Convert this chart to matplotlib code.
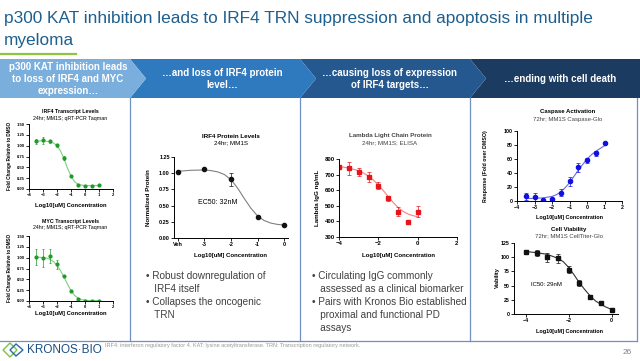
import matplotlib
matplotlib.use("Agg")
import matplotlib.pyplot as plt
from matplotlib.patches import Polygon

plt.rcParams['font.family'] = ['Liberation Sans', 'DejaVu Sans']

W, H = 640, 361

# ---------------- data ----------------
# IRF4 transcript (qRT-PCR)
irf4_x = [-3.5, -3, -2.5, -2, -1.5, -1, -0.5, 0, 0.5, 1]
irf4_y = [1.10, 1.12, 1.10, 1.01, 0.71, 0.30, 0.10, 0.08, 0.08, 0.09]
irf4_err = [0.06, 0.07, 0.04, 0.04, 0.05, 0.02, 0.01, 0.01, 0.01, 0.01]
irf4_fit_x = [-3.5, -3.25, -3, -2.75, -2.5, -2.25, -2, -1.75, -1.5, -1.25, -1, -0.75, -0.5, -0.25, 0, 0.25, 0.5, 0.75, 1]
irf4_fit_y = [1.11, 1.11, 1.11, 1.10, 1.09, 1.06, 1.00, 0.88, 0.70, 0.48, 0.30, 0.17, 0.11, 0.09, 0.08, 0.08, 0.08, 0.08, 0.08]

# MYC transcript (qRT-PCR)
myc_x = [-3.5, -3, -2.5, -2, -1.5, -1, -0.5, 0, 0.5, 1]
myc_y = [1.01, 0.99, 1.03, 0.85, 0.57, 0.23, 0.04, 0.01, 0.01, 0.01]
myc_err = [0.18, 0.20, 0.16, 0.10, 0.02, 0.02, 0.01, 0.01, 0.01, 0.01]
myc_fit_y = [1.01, 1.01, 1.00, 0.99, 0.96, 0.91, 0.82, 0.70, 0.55, 0.39, 0.24, 0.13, 0.07, 0.03, 0.02, 0.01, 0.01, 0.01, 0.01]

# IRF4 protein
prot_x = [-4, -3, -2, -1, 0]
prot_labels = ['Veh', '-3', '-2', '-1', '0']
prot_y = [1.02, 1.06, 0.91, 0.33, 0.20]
prot_err = [0.0, 0.0, 0.10, 0.0, 0.0]
prot_fit_x = [-4, -3.5, -3, -2.75, -2.5, -2.25, -2, -1.75, -1.5, -1.25, -1, -0.75, -0.5, -0.25, 0]
prot_fit_y = [1.03, 1.045, 1.05, 1.04, 1.02, 0.98, 0.90, 0.77, 0.61, 0.46, 0.34, 0.27, 0.23, 0.21, 0.20]

# Lambda IgG ELISA
igg_x = [-4, -3.5, -3, -2.5, -2, -1.5, -1, -0.5, 0]
igg_y = [750, 740, 715, 685, 630, 548, 462, 395, 462]
igg_err = [10, 40, 25, 30, 25, 15, 28, 8, 35]
igg_fit_x = [-4, -3.5, -3, -2.75, -2.5, -2.25, -2, -1.75, -1.5, -1.25, -1, -0.75, -0.5, -0.25, 0]
igg_fit_y = [752, 742, 725, 710, 690, 665, 633, 598, 560, 522, 490, 465, 448, 437, 430]

# Caspase activation
casp_x = [-3.5, -3, -2.5, -2, -1.5, -1, -0.5, 0, 0.5, 1]
casp_y = [7, 6, 1, 3, 12, 28, 48, 58, 68, 83]
casp_err = [5, 6, 1, 1, 5, 6, 6, 4, 4, 1]
casp_fit_x = [-3.5, -3, -2.5, -2, -1.75, -1.5, -1.25, -1, -0.75, -0.5, -0.25, 0, 0.25, 0.5, 0.75, 1]
casp_fit_y = [3.5, 3.8, 4.5, 6.5, 9, 13, 19, 26, 35, 44, 52, 60, 66, 71, 75, 79]

# Cell viability
via_x = [-4, -3.5, -3, -2.5, -2, -1.5, -1, -0.5, 0]
via_y = [110, 107, 100, 98, 78, 54, 30, 19, 7]
via_err = [3, 5, 8, 8, 6, 5, 3, 2, 2]
via_fit_x = [-4, -3.5, -3, -2.5, -2.25, -2, -1.75, -1.5, -1.25, -1, -0.75, -0.5, -0.25, 0]
via_fit_y = [110, 108, 105, 98, 92, 82, 69, 55, 43, 32, 23, 17, 12, 8]

banner_texts = ["p300 KAT inhibition leads\nto loss of IRF4 and MYC\nexpression\u2026",
                "\u2026and loss of IRF4 protein\nlevel\u2026",
                "\u2026causing loss of expression\nof IRF4 targets\u2026",
                "\u2026ending with cell death"]
banner_colors = ['#7aaedd', '#2f79bf', '#25588f', '#1c3b60']

fig = plt.figure(figsize=(6.4, 3.61), dpi=100)
bg = fig.add_axes([0, 0, 1, 1])
bg.set_xlim(0, W)
bg.set_ylim(H, 0)
bg.axis('off')

# title
bg.text(4, 19, "p300 KAT inhibition leads to IRF4 TRN suppression and apoptosis in multiple",
        fontsize=12.4, color='#1d5f8f', va='center', ha='left')
bg.text(4, 40, "myeloma", fontsize=12.4, color='#1d5f8f', va='center', ha='left')
bg.plot([0, 76], [54, 54], color='#8cc540', lw=1.6)

# chevron banner
top, bot = 59, 98
mid = (top + bot) / 2
edges = [0, 130, 300, 470, 640]
tip = 16
for i in range(4):
    x0, x1 = edges[i], edges[i + 1]
    pts = [(x0, top), (x1, top), (x1 + tip if i < 3 else x1, mid), (x1, bot), (x0, bot)]
    if i > 0:
        pts.append((x0 + tip, mid))
    bg.add_patch(Polygon(pts, closed=True, facecolor=banner_colors[i], edgecolor='none', zorder=4 - i))
centers = [68, 222, 390, 560]
for c, t in zip(centers, banner_texts):
    bg.text(c, mid, t, color='white', fontsize=7, fontweight='bold', ha='center', va='center',
            linespacing=1.25, zorder=6)

# panel borders
bcol = '#7090c0'
for x in [130, 300, 470, 637]:
    bg.plot([x, x], [bot, 341], color=bcol, lw=0.9)
bg.plot([0, 637], [341, 341], color=bcol, lw=0.9)

# bullets
bg.text(146, 271, "\u2022 Robust downregulation of\n   IRF4 itself\n\u2022 Collapses the oncogenic\n   TRN",
        fontsize=7.2, color='#404040', va='top', ha='left', linespacing=1.38)
bg.text(312, 271, "\u2022 Circulating IgG commonly\n   assessed as a clinical biomarker\n\u2022 Pairs with Kronos Bio established\n   proximal and functional PD\n   assays",
        fontsize=7.2, color='#404040', va='top', ha='left', linespacing=1.38)

# footer
bg.text(105, 346, "IRF4: interferon regulatory factor 4. KAT: lysine acetyltransferase. TRN: Transcription regulatory network.",
        fontsize=4, color='#9a9a9a', va='center', ha='left')
bg.text(632, 352, "26", fontsize=6, color='#808080', ha='right', va='center')
bg.add_patch(Polygon([(3, 350), (10, 343), (17, 350), (10, 357)], closed=True, fill=False, edgecolor='#7dc242', lw=1.0))
bg.add_patch(Polygon([(10, 350), (16, 344), (23, 350), (16, 356)], closed=True, fill=False, edgecolor='#2a6bb0', lw=1.0))
bg.text(27, 350, "KRONOS\u00b7BIO", fontsize=8.5, color='#1e4f82', va='center', ha='left')


def make_ax(box, xlim, ylim):
    x0, y0, w, h = box
    ax = fig.add_axes([x0 / W, 1 - (y0 + h) / H, w / W, h / H])
    ax.patch.set_alpha(0)
    ax.set_xlim(*xlim)
    ax.set_ylim(*ylim)
    for s in ['top', 'right']:
        ax.spines[s].set_visible(False)
    for s in ['left', 'bottom']:
        ax.spines[s].set_linewidth(0.7)
    ax.tick_params(length=2, width=0.6, pad=1)
    return ax


def style_ticks(ax, fs):
    for lab in ax.get_xticklabels() + ax.get_yticklabels():
        lab.set_fontsize(fs)
        lab.set_fontweight('bold')


# chart 1: IRF4 transcript
ax1 = make_ax((29, 124, 84, 65), (-4, 2), (0, 1.5))
ax1.plot(irf4_fit_x, irf4_fit_y, color='#7fcf7f', lw=0.8)
ax1.errorbar(irf4_x, irf4_y, yerr=irf4_err, fmt='o', ms=2.0, color='#1f9a2a', elinewidth=0.5, capsize=1, capthick=0.5)
ax1.set_xticks(range(-4, 3))
ax1.set_yticks([0, 0.25, 0.5, 0.75, 1.0, 1.25, 1.5])
ax1.set_yticklabels(['0.00', '0.25', '0.50', '0.75', '1.00', '1.25', '1.50'])
style_ticks(ax1, 3)
bg.text(70, 112, "IRF4 Transcript Levels", fontsize=3.8, fontweight='bold', ha='center', va='center')
bg.text(70, 118.5, "24hr; MM1S; qRT-PCR Taqman", fontsize=3.8, ha='center', va='center')
bg.text(71, 206, "Log10[uM] Concentration", fontsize=4.2, fontweight='bold', ha='center', va='center')
bg.text(10, 156, "Fold Change Relative to DMSO", fontsize=3.3, fontweight='bold', ha='center', va='center', rotation=90)

# chart 2: MYC transcript
ax2 = make_ax((29, 236, 84, 65), (-4, 2), (0, 1.5))
ax2.plot(irf4_fit_x, myc_fit_y, color='#7fcf7f', lw=0.8)
ax2.errorbar(myc_x, myc_y, yerr=myc_err, fmt='o', ms=2.0, color='#1f9a2a', elinewidth=0.5, capsize=1, capthick=0.5)
ax2.set_xticks(range(-4, 3))
ax2.set_yticks([0, 0.25, 0.5, 0.75, 1.0, 1.25, 1.5])
ax2.set_yticklabels(['0.00', '0.25', '0.50', '0.75', '1.00', '1.25', '1.50'])
style_ticks(ax2, 3)
bg.text(70, 221, "MYC Transcript Levels", fontsize=3.8, fontweight='bold', ha='center', va='center')
bg.text(70, 227.5, "24hr; MM1S; qRT-PCR Taqman", fontsize=3.8, ha='center', va='center')
bg.text(71, 314, "Log10[uM] Concentration", fontsize=4.2, fontweight='bold', ha='center', va='center')
bg.text(10, 268, "Fold Change Relative to DMSO", fontsize=3.3, fontweight='bold', ha='center', va='center', rotation=90)

# chart 3: IRF4 protein
ax3 = make_ax((174, 157, 114, 81), (-4.15, 0.15), (0, 1.25))
ax3.plot(prot_fit_x, prot_fit_y, color='#808080', lw=0.8)
ax3.errorbar(prot_x, prot_y, yerr=prot_err, fmt='o', ms=3, color='#111111', elinewidth=0.5, capsize=1.2, capthick=0.5)
ax3.set_xticks(prot_x)
ax3.set_xticklabels(prot_labels)
ax3.set_yticks([0, 0.25, 0.5, 0.75, 1.0, 1.25])
ax3.set_yticklabels(['0.00', '0.25', '0.50', '0.75', '1.00', '1.25'])
style_ticks(ax3, 4)
bg.text(231, 136, "IRF4 Protein Levels", fontsize=4.5, fontweight='bold', ha='center', va='center')
bg.text(231, 143, "24hr; MM1S", fontsize=4.5, ha='center', va='center')
bg.text(218, 202, "EC50: 32nM", fontsize=5, ha='center', va='center')
bg.text(231, 256, "Log10[uM] Concentration", fontsize=4.3, fontweight='bold', ha='center', va='center')
bg.text(148, 198, "Normalized Protein", fontsize=4.5, fontweight='bold', ha='center', va='center', rotation=90)

# chart 4: lambda IgG
ax4 = make_ax((339, 159, 118, 78), (-4, 2), (300, 800))
ax4.plot(igg_fit_x, igg_fit_y, color='#f58080', lw=0.8)
ax4.errorbar(igg_x, igg_y, yerr=igg_err, fmt='s', ms=3, color='#e8141c', elinewidth=0.5, capsize=1.2, capthick=0.5)
ax4.set_xticks([-4, -2, 0, 2])
ax4.set_yticks(range(300, 801, 100))
style_ticks(ax4, 4.3)
bg.text(390, 136, "Lambda Light Chain Protein", fontsize=4.5, fontweight='bold', ha='center', va='center', color='#444444')
bg.text(390, 143, "24hr; MM1S; ELISA", fontsize=4.5, ha='center', va='center', color='#444444')
bg.text(398, 256, "Log10[uM] Concentration", fontsize=4.3, fontweight='bold', ha='center', va='center')
bg.text(318, 198, "Lambda IgG ng/mL", fontsize=4.5, fontweight='bold', ha='center', va='center', rotation=90)

# chart 5: caspase
ax5 = make_ax((517, 131, 105, 70), (-4, 2), (0, 100))
ax5.plot(casp_fit_x, casp_fit_y, color='#6a6ae8', lw=0.8)
ax5.errorbar(casp_x, casp_y, yerr=casp_err, fmt='o', ms=3, color='#1010e0', elinewidth=0.5, capsize=1.2, capthick=0.5)
ax5.set_xticks(range(-4, 3))
ax5.set_yticks(range(0, 101, 20))
style_ticks(ax5, 3.8)
bg.text(568, 112, "Caspase Activation", fontsize=4.3, fontweight='bold', ha='center', va='center')
bg.text(568, 119, "72hr; MM1S Caspase-Glo", fontsize=4.3, ha='center', va='center', color='#444444')
bg.text(570, 217, "Log10[uM] Concentration", fontsize=4, fontweight='bold', ha='center', va='center')
bg.text(486, 166, "Response (Fold over DMSO)", fontsize=3.8, fontweight='bold', ha='center', va='center', rotation=90)

# chart 6: viability
ax6 = make_ax((514, 243, 104, 71), (-4.55, 0.3), (0, 125))
ax6.plot(via_fit_x, via_fit_y, color='#333333', lw=0.8)
ax6.errorbar(via_x, via_y, yerr=via_err, fmt='s', ms=2.7, color='#111111', elinewidth=0.5, capsize=1.2, capthick=0.5)
ax6.set_xticks([-4, -2, 0])
ax6.set_yticks(range(0, 126, 25))
style_ticks(ax6, 3.8)
bg.text(569, 229, "Cell Viability", fontsize=4.3, fontweight='bold', ha='center', va='center')
bg.text(569, 236, "72hr; MM1S CellTiter-Glo", fontsize=4.3, ha='center', va='center', color='#444444')
bg.text(546, 285, "IC50: 29nM", fontsize=4.3, ha='center', va='center')
bg.text(569, 331, "Log10[uM] Concentration", fontsize=4, fontweight='bold', ha='center', va='center')
bg.text(497, 278, "Viability", fontsize=4, fontweight='bold', ha='center', va='center', rotation=90)

fig.savefig("out.png", dpi=100)
